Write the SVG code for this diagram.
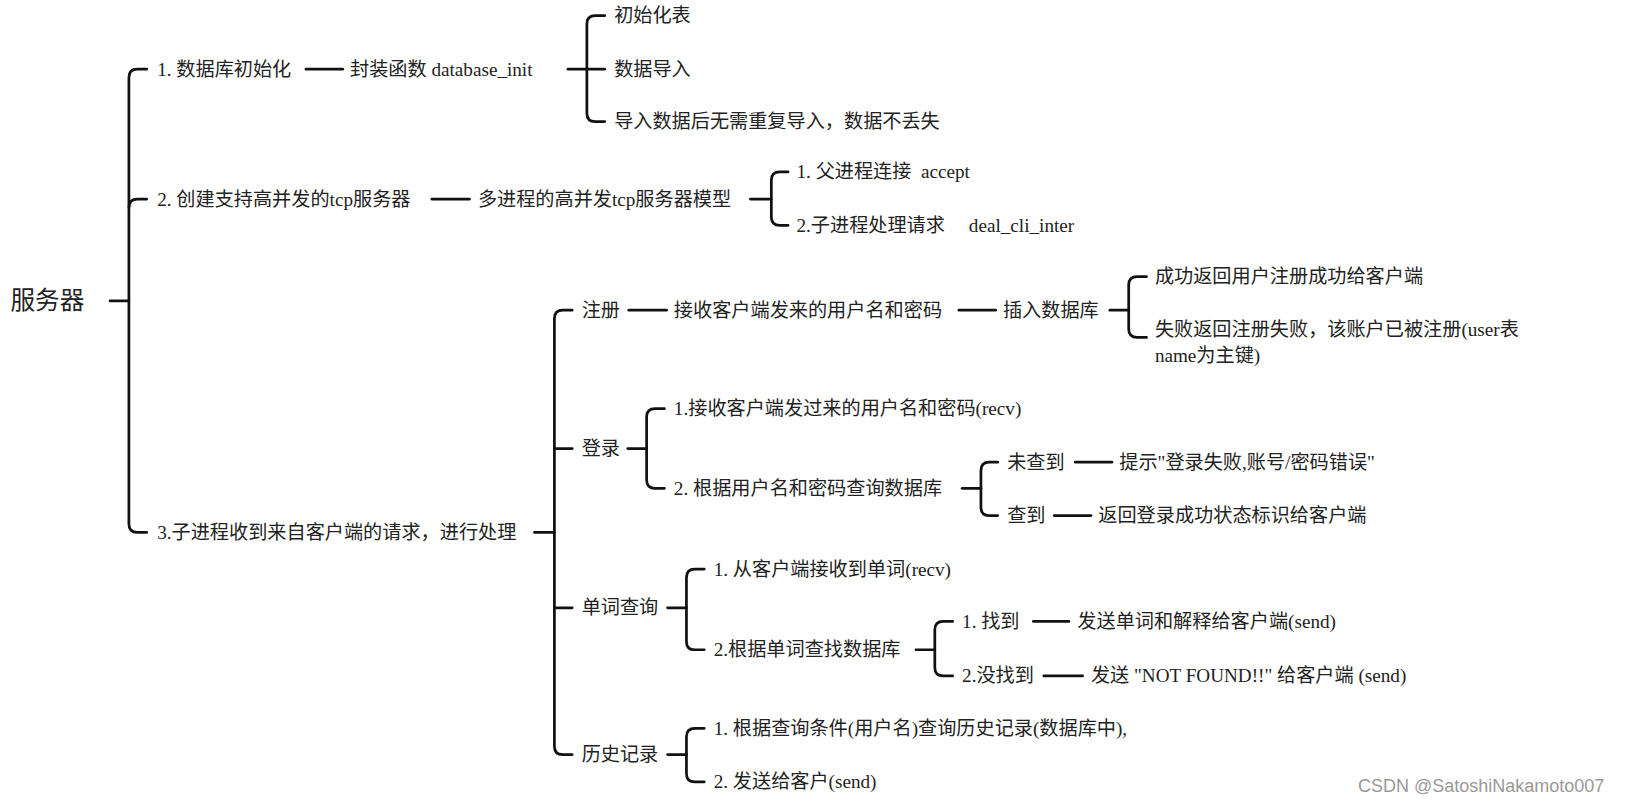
<svg xmlns="http://www.w3.org/2000/svg" width="1635" height="802" viewBox="0 0 1635 802">
<style>
text{font-family:"Liberation Serif","Noto Sans CJK SC",serif;font-size:18.3px;fill:#222;dominant-baseline:central}
.c path,.c line{stroke:#111;stroke-width:2.6;fill:none;stroke-linecap:round}
.wm{font-family:"Liberation Sans",sans-serif;font-size:18px;fill:#999;dominant-baseline:alphabetic}
</style>
<rect width="1635" height="802" fill="#fff"/>
<g transform="scale(1.048)">
<g class="c" id="connectors">
<line x1="105" y1="287" x2="123" y2="287"/>
<path d="M140 66 H131 Q123 66 123 74 V500 Q123 508 131 508 H140"/>
<path d="M123 198 Q123 190 131 190 H140"/>
<line x1="292" y1="66" x2="327" y2="66"/>
<line x1="542" y1="66" x2="560" y2="66"/>
<path d="M577 15 H568 Q560 15 560 23 V108 Q560 116 568 116 H577"/>
<line x1="560" y1="66" x2="577" y2="66"/>
<line x1="412" y1="190" x2="448" y2="190"/>
<line x1="716" y1="190" x2="736" y2="190"/>
<path d="M752 164 H744 Q736 164 736 172 V207 Q736 215 744 215 H752"/>
<line x1="510" y1="508" x2="529" y2="508"/>
<path d="M546 296 H537 Q529 296 529 304 V712 Q529 720 537 720 H546"/>
<line x1="529" y1="428" x2="546" y2="428"/>
<line x1="529" y1="580" x2="546" y2="580"/>
<line x1="600" y1="296" x2="636" y2="296"/>
<line x1="915" y1="296" x2="950" y2="296"/>
<line x1="1059" y1="296" x2="1077" y2="296"/>
<path d="M1094 264 H1085 Q1077 264 1077 272 V314 Q1077 322 1085 322 H1094"/>
<line x1="599" y1="428" x2="617" y2="428"/>
<path d="M634 390 H625 Q617 390 617 398 V458 Q617 466 625 466 H634"/>
<line x1="918" y1="466" x2="936" y2="466"/>
<path d="M952 441 H944 Q936 441 936 449 V484 Q936 492 944 492 H952"/>
<line x1="1026" y1="441" x2="1061" y2="441"/>
<line x1="1006" y1="492" x2="1041" y2="492"/>
<line x1="637" y1="580" x2="655" y2="580"/>
<path d="M672 543 H663 Q655 543 655 551 V612 Q655 620 663 620 H672"/>
<line x1="874" y1="620" x2="892" y2="620"/>
<path d="M909 593 H900 Q892 593 892 601 V637 Q892 645 900 645 H909"/>
<line x1="986" y1="593" x2="1020" y2="593"/>
<line x1="996" y1="645" x2="1033" y2="645"/>
<line x1="637" y1="720" x2="655" y2="720"/>
<path d="M672 695 H663 Q655 695 655 703 V738 Q655 746 663 746 H672"/>
</g>
<g id="root"><text x="10" y="287" style="font-size:23.5px">服务器</text></g>
<g id="n1"><text x="150" y="66">1. 数据库初始化</text></g>
<g id="n1a"><text x="334" y="66">封装函数 database_init</text></g>
<g id="n1a1"><text x="586" y="15">初始化表</text></g>
<g id="n1a2"><text x="586" y="66">数据导入</text></g>
<g id="n1a3"><text x="586" y="116">导入数据后无需重复导入，数据不丢失</text></g>
<g id="n2"><text x="150" y="190">2. 创建支持高并发的tcp服务器</text></g>
<g id="n2a"><text x="456" y="190">多进程的高并发tcp服务器模型</text></g>
<g id="n2a1"><text x="760" y="164" xml:space="preserve">1. 父进程连接  accept</text></g>
<g id="n2a2"><text x="760" y="215" xml:space="preserve">2.子进程处理请求     deal_cli_inter</text></g>
<g id="n3"><text x="150" y="508">3.子进程收到来自客户端的请求，进行处理</text></g>
<g id="reg"><text x="555" y="296">注册</text></g>
<g id="reg1"><text x="643" y="296">接收客户端发来的用户名和密码</text></g>
<g id="reg2"><text x="957" y="296">插入数据库</text></g>
<g id="reg3"><text x="1102" y="264">成功返回用户注册成功给客户端</text></g>
<g id="reg4"><text x="1102" y="314">失败返回注册失败，该账户已被注册(user表</text><text x="1102" y="339">name为主键)</text></g>
<g id="login"><text x="555" y="428">登录</text></g>
<g id="login1"><text x="643" y="390">1.接收客户端发过来的用户名和密码(recv)</text></g>
<g id="login2"><text x="643" y="466">2. 根据用户名和密码查询数据库</text></g>
<g id="login2a"><text x="961" y="441">未查到</text></g>
<g id="login2a1"><text x="1068" y="441">提示"登录失败,账号/密码错误"</text></g>
<g id="login2b"><text x="961" y="492">查到</text></g>
<g id="login2b1"><text x="1048" y="492">返回登录成功状态标识给客户端</text></g>
<g id="word"><text x="555" y="580">单词查询</text></g>
<g id="word1"><text x="681" y="543">1. 从客户端接收到单词(recv)</text></g>
<g id="word2"><text x="681" y="620">2.根据单词查找数据库</text></g>
<g id="word2a"><text x="918" y="593">1. 找到</text></g>
<g id="word2a1"><text x="1028" y="593">发送单词和解释给客户端(send)</text></g>
<g id="word2b"><text x="918" y="645">2.没找到</text></g>
<g id="word2b1"><text x="1041" y="645">发送 "NOT FOUND!!" 给客户端 (send)</text></g>
<g id="hist"><text x="555" y="720">历史记录</text></g>
<g id="hist1"><text x="681" y="695">1. 根据查询条件(用户名)查询历史记录(数据库中),</text></g>
<g id="hist2"><text x="681" y="746">2. 发送给客户(send)</text></g>
</g>
<text class="wm" x="1358" y="792">CSDN @SatoshiNakamoto007</text>
</svg>
